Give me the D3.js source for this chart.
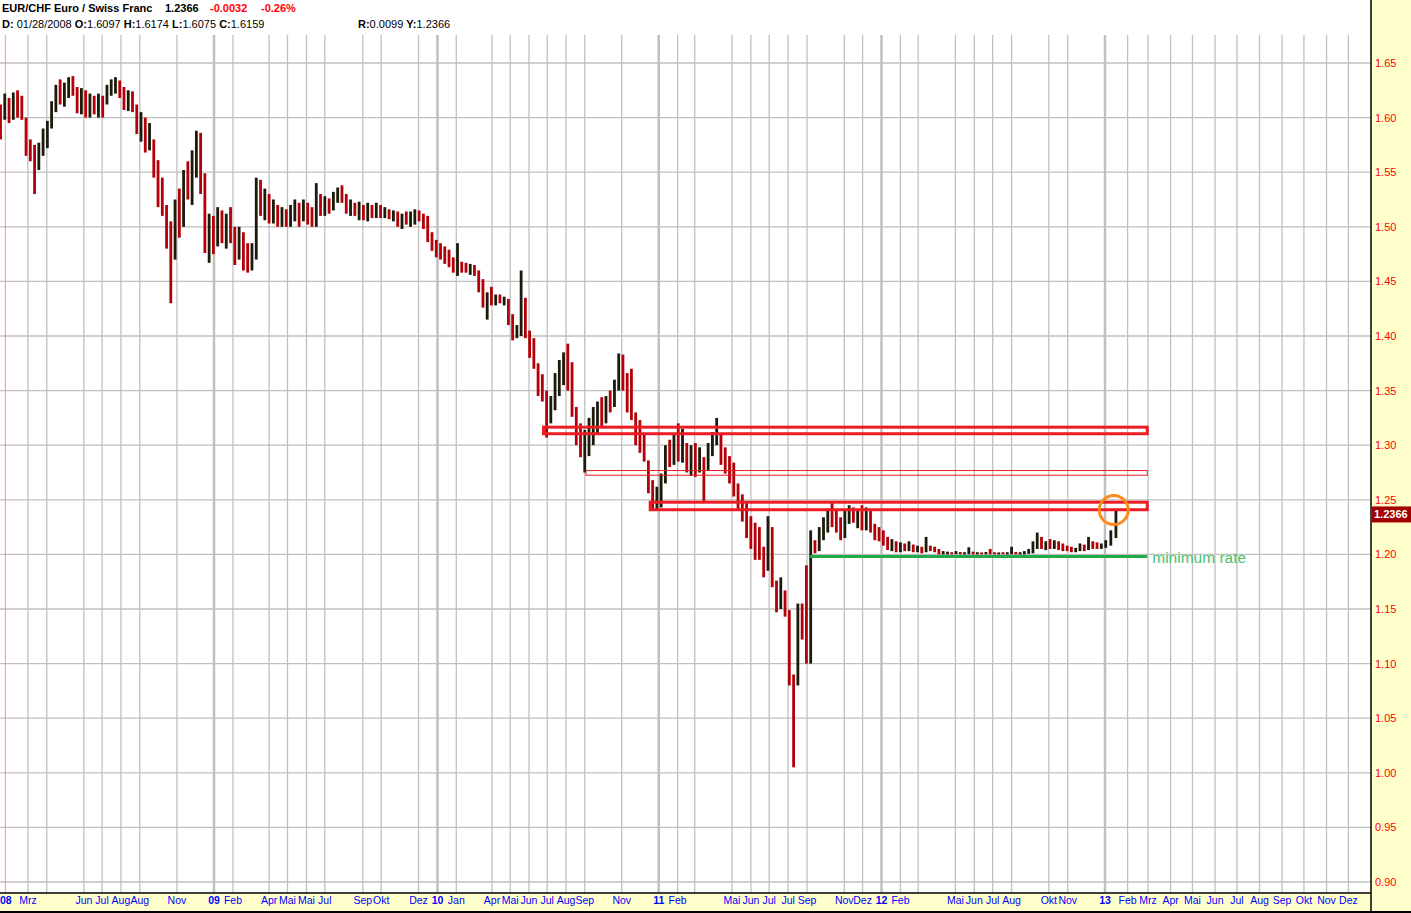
<!DOCTYPE html>
<html lang="en">
<head>
<meta charset="UTF-8">
<title>EUR/CHF Euro / Swiss Franc</title>
<script src="https://d3js.org/d3.v7.min.js"></script>
<style>
    body { margin: 0; padding: 0; background: #fff; }
    svg { display: block; font-family: 'Liberation Sans', Arial, sans-serif; }
</style>
</head>
<body>
<div id="chart"></div>
<script>
// weekly bars, first week starts Monday 2008-01-14
var firstWeek = "2008-01-14";
var firstOpen = 1.6097;

var highs = [
    1.612,1.622,1.618,1.623,1.625,1.620,1.600,1.580,1.575,1.577,
    1.590,1.597,1.615,1.630,1.635,1.632,1.637,1.638,1.628,1.627,
    1.625,1.622,1.620,1.622,1.620,1.630,1.635,1.637,1.634,1.628,
    1.625,1.624,1.612,1.605,1.600,1.595,1.580,1.561,1.545,1.520,
    1.505,1.525,1.535,1.552,1.560,1.570,1.588,1.586,1.549,1.512,
    1.510,1.518,1.515,1.512,1.518,1.500,1.500,1.495,1.485,1.485,
    1.545,1.543,1.535,1.530,1.525,1.520,1.518,1.516,1.520,1.525,
    1.522,1.525,1.522,1.518,1.540,1.530,1.528,1.526,1.532,1.536,
    1.538,1.530,1.525,1.522,1.523,1.520,1.522,1.520,1.522,1.520,
    1.518,1.516,1.515,1.514,1.512,1.514,1.514,1.516,1.515,1.512,
    1.510,1.495,1.488,1.485,1.482,1.479,1.472,1.485,1.468,1.467,
    1.466,1.465,1.460,1.452,1.440,1.445,1.438,1.438,1.436,1.434,
    1.420,1.410,1.460,1.435,1.405,1.398,1.375,1.365,1.350,1.345,
    1.366,1.378,1.385,1.393,1.376,1.335,1.320,1.314,1.325,1.335,
    1.340,1.344,1.345,1.350,1.360,1.384,1.383,1.366,1.370,1.330,
    1.323,1.310,1.286,1.268,1.262,1.274,1.300,1.305,1.310,1.320,
    1.315,1.302,1.300,1.302,1.298,1.289,1.302,1.312,1.325,1.310,
    1.298,1.290,1.284,1.265,1.255,1.247,1.235,1.229,1.225,1.207,
    1.235,1.225,1.176,1.179,1.167,1.149,1.090,1.155,1.155,1.190,
    1.222,1.213,1.225,1.234,1.240,1.247,1.240,1.234,1.240,1.245,
    1.243,1.240,1.245,1.243,1.240,1.228,1.225,1.222,1.216,1.214,
    1.212,1.211,1.210,1.212,1.209,1.208,1.207,1.216,1.208,1.207,
    1.205,1.203,1.2025,1.2020,1.2030,1.2022,1.2020,1.2065,1.2025,1.2020,
    1.2018,1.2022,1.2050,1.2020,1.2018,1.2020,1.2020,1.2070,1.2022,1.2020,
    1.203,1.205,1.212,1.220,1.216,1.212,1.214,1.213,1.212,1.210,
    1.208,1.207,1.206,1.210,1.209,1.216,1.212,1.211,1.210,1.213,
    1.222,1.240
];

var lows = [
    1.580,1.598,1.595,1.598,1.600,1.598,1.565,1.560,1.530,1.552,
    1.565,1.572,1.590,1.605,1.612,1.610,1.618,1.620,1.604,1.603,
    1.600,1.600,1.603,1.600,1.600,1.612,1.620,1.622,1.618,1.607,
    1.606,1.605,1.585,1.578,1.568,1.570,1.545,1.518,1.510,1.480,
    1.430,1.470,1.490,1.500,1.525,1.520,1.545,1.530,1.476,1.467,
    1.475,1.482,1.485,1.480,1.485,1.465,1.470,1.460,1.458,1.460,
    1.470,1.510,1.506,1.503,1.503,1.500,1.500,1.500,1.500,1.505,
    1.500,1.505,1.502,1.500,1.500,1.510,1.510,1.512,1.515,1.522,
    1.522,1.512,1.510,1.510,1.506,1.506,1.505,1.508,1.508,1.508,
    1.508,1.507,1.505,1.500,1.498,1.502,1.500,1.502,1.505,1.498,
    1.486,1.478,1.472,1.470,1.466,1.463,1.458,1.455,1.458,1.458,
    1.456,1.455,1.440,1.426,1.415,1.428,1.428,1.430,1.428,1.410,
    1.396,1.398,1.400,1.398,1.380,1.370,1.345,1.340,1.307,1.320,
    1.332,1.345,1.355,1.350,1.326,1.300,1.289,1.275,1.290,1.300,
    1.310,1.317,1.320,1.330,1.335,1.350,1.350,1.330,1.323,1.300,
    1.293,1.285,1.256,1.240,1.240,1.243,1.265,1.280,1.282,1.285,
    1.284,1.275,1.272,1.271,1.275,1.247,1.277,1.290,1.300,1.282,
    1.274,1.265,1.253,1.240,1.230,1.215,1.205,1.195,1.195,1.179,
    1.185,1.170,1.147,1.150,1.143,1.080,1.005,1.080,1.122,1.100,
    1.100,1.201,1.203,1.213,1.220,1.225,1.220,1.213,1.215,1.228,
    1.229,1.224,1.222,1.222,1.220,1.213,1.212,1.208,1.204,1.203,
    1.202,1.202,1.203,1.203,1.202,1.202,1.201,1.202,1.203,1.202,
    1.200,1.200,1.2000,1.2000,1.2002,1.2000,1.2000,1.2001,1.2000,1.2000,
    1.2000,1.2001,1.2000,1.2000,1.2000,1.2001,1.2000,1.2001,1.2000,1.2000,
    1.200,1.2005,1.201,1.205,1.205,1.204,1.205,1.205,1.204,1.203,
    1.203,1.202,1.202,1.203,1.203,1.204,1.205,1.205,1.205,1.206,
    1.208,1.215
];

var closes = [
    1.600,1.615,1.600,1.615,1.610,1.605,1.572,1.568,1.560,1.570,
    1.585,1.590,1.610,1.625,1.620,1.628,1.630,1.625,1.610,1.620,
    1.608,1.615,1.610,1.618,1.605,1.628,1.630,1.632,1.622,1.612,
    1.620,1.610,1.590,1.600,1.575,1.580,1.550,1.525,1.520,1.490,
    1.470,1.510,1.500,1.545,1.530,1.565,1.575,1.535,1.490,1.500,
    1.480,1.510,1.490,1.505,1.495,1.470,1.490,1.470,1.465,1.475,
    1.530,1.520,1.530,1.510,1.520,1.505,1.512,1.505,1.515,1.520,
    1.505,1.518,1.508,1.503,1.530,1.515,1.522,1.520,1.528,1.530,
    1.525,1.515,1.520,1.513,1.518,1.510,1.515,1.512,1.518,1.512,
    1.515,1.510,1.512,1.505,1.510,1.508,1.510,1.512,1.510,1.505,
    1.490,1.482,1.480,1.475,1.470,1.468,1.462,1.465,1.462,1.460,
    1.460,1.457,1.445,1.430,1.435,1.432,1.435,1.433,1.434,1.415,
    1.400,1.405,1.430,1.405,1.385,1.375,1.350,1.345,1.335,1.340,
    1.360,1.370,1.380,1.360,1.335,1.305,1.295,1.300,1.318,1.325,
    1.335,1.330,1.340,1.338,1.355,1.375,1.360,1.345,1.330,1.305,
    1.300,1.290,1.265,1.250,1.255,1.270,1.295,1.290,1.305,1.295,
    1.305,1.285,1.290,1.280,1.290,1.280,1.295,1.305,1.310,1.290,
    1.280,1.270,1.260,1.250,1.235,1.225,1.215,1.205,1.200,1.185,
    1.225,1.180,1.160,1.165,1.150,1.090,1.060,1.140,1.130,1.105,
    1.210,1.205,1.220,1.228,1.235,1.230,1.225,1.218,1.235,1.238,
    1.232,1.235,1.228,1.238,1.225,1.218,1.215,1.212,1.208,1.210,
    1.205,1.208,1.206,1.209,1.204,1.206,1.203,1.206,1.205,1.204,
    1.201,1.201,1.2012,1.2005,1.2015,1.2006,1.2010,1.2010,1.2008,1.2012,
    1.2006,1.2010,1.2009,1.2007,1.2010,1.2008,1.2008,1.2012,1.2006,1.2010,
    1.2015,1.2030,1.210,1.215,1.208,1.210,1.207,1.210,1.206,1.205,
    1.204,1.203,1.205,1.208,1.205,1.212,1.208,1.207,1.208,1.211,
    1.220,1.2366
];

var yTicks = [0.90, 0.95, 1.00, 1.05, 1.10, 1.15, 1.20, 1.25, 1.30, 1.35, 1.40, 1.45, 1.50, 1.55, 1.60, 1.65];

// month grid lines and the labels the chart put under them
var tickDates = [
    "2008-03-01","2008-04-01","2008-06-01","2008-07-01","2008-08-01","2008-09-01","2008-11-01",
    "2009-01-01","2009-02-01","2009-04-01","2009-05-01","2009-06-01","2009-07-01","2009-09-01","2009-10-01","2009-12-01",
    "2010-01-01","2010-02-01","2010-04-01","2010-05-01","2010-06-01","2010-07-01","2010-08-01","2010-09-01","2010-11-01",
    "2011-01-01","2011-02-01","2011-03-01","2011-05-01","2011-06-01","2011-07-01","2011-08-01","2011-09-01","2011-11-01","2011-12-01",
    "2012-01-01","2012-02-01","2012-03-01","2012-05-01","2012-06-01","2012-07-01","2012-08-01","2012-10-01","2012-11-01",
    "2013-01-01","2013-02-01","2013-03-01","2013-04-01","2013-05-01","2013-06-01","2013-07-01","2013-08-01","2013-09-01","2013-10-01","2013-11-01","2013-12-01"
];
var tickLabels = [
    "Mrz","","Jun","Jul","Aug","Aug","Nov",
    "09","Feb","Apr","Mai","Mai","Jul","Sep","Okt","Dez",
    "10","Jan","Apr","Mai","Jun","Jul","Aug","Sep","Nov",
    "11","Feb","","Mai","Jun","Jul","Jul","Sep","Nov","Dez",
    "12","Feb","","Mai","Jun","Jul","Aug","Okt","Nov",
    "13","Feb","Mrz","Apr","Mai","Jun","Jul","Aug","Sep","Okt","Nov","Dez"
];

// resistance zones drawn on the chart
var zoneStart = ["2010-06-25", "2010-09-03", "2010-12-18"];
var zoneEnd = ["2013-02-28", "2013-02-28", "2013-02-28"];
var zoneTop = [1.3165, 1.2768, 1.2478];
var zoneBottom = [1.3105, 1.2725, 1.2409];

var minRate = 1.20;
var minRateFrom = "2011-09-06";
var minRateTo = "2013-02-28";
var circleDate = "2013-01-13";
var circlePrice = 1.2407;
var lastPrice = 1.2366;
var cursorDate = "2008-01-28";

var width = 1411, height = 913;
var plotRight = 1371, plotTop = 35, plotBottom = 893;

var parseDate = d3.timeParse("%Y-%m-%d");

var xScale = d3.scaleTime()
    .domain(["2008-01-01","2009-01-01","2010-01-01","2011-01-01","2012-01-01","2013-01-01","2014-01-01"].map(parseDate))
    .range([-8.6, 214, 437.5, 658.7, 881.5, 1105, 1371]);

var yScale = d3.scaleLinear()
    .domain([0.90, 1.65])
    .range([882, 63]);

var bars = highs.map(function(h, i) {
    return {
        date: d3.timeDay.offset(parseDate(firstWeek), 7 * i + 2),
        high: h,
        low: lows[i],
        open: i === 0 ? firstOpen : closes[i - 1],
        close: closes[i]
    };
});

var svg = d3.select("#chart").append("svg")
    .attr("width", width)
    .attr("height", height)
    .attr("viewBox", [0, 0, width, height]);

svg.append("rect").attr("width", width).attr("height", height).attr("fill", "#fff");

// grid
var grid = svg.append("g");
grid.selectAll(".vgrid")
    .data(tickDates)
    .enter()
    .append("line")
    .attr("x1", d => xScale(parseDate(d)))
    .attr("x2", d => xScale(parseDate(d)))
    .attr("y1", plotTop)
    .attr("y2", plotBottom)
    .style("stroke", "#c0c0c0")
    .style("stroke-width", d => d.slice(5) === "01-01" ? 2.5 : 1.3);

grid.selectAll(".hgrid")
    .data(yTicks)
    .enter()
    .append("line")
    .attr("x1", 0)
    .attr("x2", plotRight)
    .attr("y1", d => yScale(d))
    .attr("y2", d => yScale(d))
    .style("stroke", "#c0c0c0")
    .style("stroke-width", 1.3);

// cursor line
svg.append("line")
    .attr("x1", xScale(parseDate(cursorDate)) - 2.5)
    .attr("x2", xScale(parseDate(cursorDate)) - 2.5)
    .attr("y1", plotTop)
    .attr("y2", plotBottom)
    .style("stroke", "#ff9090")
    .style("stroke-width", 1);

// price bars
svg.append("g").selectAll("rect")
    .data(bars)
    .enter()
    .append("rect")
    .attr("x", d => xScale(d.date) - 1.4)
    .attr("width", 2.8)
    .attr("y", d => yScale(d.high))
    .attr("height", d => Math.max(1.5, yScale(d.low) - yScale(d.high)))
    .attr("fill", d => d.close >= d.open ? "#1c1a0a" : "#b40008");

// zones
svg.append("g").selectAll("rect")
    .data(zoneTop)
    .enter()
    .append("rect")
    .attr("x", (d, i) => xScale(parseDate(zoneStart[i])))
    .attr("width", (d, i) => xScale(parseDate(zoneEnd[i])) - xScale(parseDate(zoneStart[i])))
    .attr("y", d => yScale(d))
    .attr("height", (d, i) => yScale(zoneBottom[i]) - yScale(d))
    .attr("fill", "none")
    .attr("stroke", "#ec1c24")
    .attr("stroke-width", (d, i) => i === 1 ? 1 : 3);

// minimum rate line
svg.append("line")
    .attr("x1", xScale(parseDate(minRateFrom)))
    .attr("x2", xScale(parseDate(minRateTo)))
    .attr("y1", yScale(minRate) + 2)
    .attr("y2", yScale(minRate) + 2)
    .style("stroke", "#22a94a")
    .style("stroke-width", 3);

svg.append("text")
    .attr("x", xScale(parseDate(minRateTo)) + 5)
    .attr("y", yScale(minRate) + 9)
    .style("font-size", "15.5px")
    .style("fill", "#45c36f")
    .text("minimum rate");

svg.append("circle")
    .attr("cx", xScale(parseDate(circleDate)))
    .attr("cy", yScale(circlePrice))
    .attr("r", 14.5)
    .attr("fill", "none")
    .attr("stroke", "#ff8a1c")
    .attr("stroke-width", 3);

// right price axis
svg.append("rect")
    .attr("x", plotRight).attr("y", 0)
    .attr("width", width - plotRight).attr("height", height)
    .attr("fill", "#ffffcc");

svg.append("g").selectAll("text")
    .data(yTicks)
    .enter()
    .append("text")
    .attr("x", plotRight + 4)
    .attr("y", d => yScale(d))
    .attr("dy", "0.36em")
    .style("font-size", "11px")
    .style("fill", "#ff0000")
    .text(d => d.toFixed(2));

svg.append("rect")
    .attr("x", plotRight + 1)
    .attr("y", yScale(lastPrice) - 8)
    .attr("width", width - plotRight - 1)
    .attr("height", 16)
    .attr("fill", "#a00000");

svg.append("text")
    .attr("x", plotRight + 3)
    .attr("y", yScale(lastPrice))
    .attr("dy", "0.36em")
    .style("font-size", "11px")
    .style("font-weight", "bold")
    .style("fill", "#fff")
    .text(lastPrice.toFixed(4));

// bottom time axis
svg.append("rect")
    .attr("x", 0).attr("y", plotBottom)
    .attr("width", width).attr("height", height - plotBottom)
    .attr("fill", "#ffffcc");

svg.append("g").selectAll("text")
    .data(tickDates)
    .enter()
    .append("text")
    .attr("x", d => xScale(parseDate(d)))
    .attr("y", 904)
    .attr("text-anchor", "middle")
    .style("font-size", "10.5px")
    .style("font-weight", d => d.slice(5) === "01-01" ? "bold" : "normal")
    .style("fill", "#0000ff")
    .text((d, i) => tickLabels[i]);

svg.append("text")
    .attr("x", 0)
    .attr("y", 904)
    .style("font-size", "10.5px")
    .style("font-weight", "bold")
    .style("fill", "#0000ff")
    .text("08");

svg.append("line")
    .attr("x1", 0).attr("x2", plotRight)
    .attr("y1", plotBottom).attr("y2", plotBottom)
    .style("stroke", "#000").style("stroke-width", 1.5);

svg.append("line")
    .attr("x1", plotRight).attr("x2", plotRight)
    .attr("y1", 0).attr("y2", height)
    .style("stroke", "#000").style("stroke-width", 1.5);

svg.append("line")
    .attr("x1", 0).attr("x2", width)
    .attr("y1", height - 1).attr("y2", height - 1)
    .style("stroke", "#000").style("stroke-width", 2);

// header
var head = svg.append("g").style("font-size", "11px");
head.append("text").attr("x", 2).attr("y", 12).style("font-weight", "bold").text("EUR/CHF Euro / Swiss Franc");
head.append("text").attr("x", 165).attr("y", 12).style("font-weight", "bold").text("1.2366");
head.append("text").attr("x", 210).attr("y", 12).style("font-weight", "bold").style("fill", "#ff0000").text("-0.0032");
head.append("text").attr("x", 261).attr("y", 12).style("font-weight", "bold").style("fill", "#ff0000").text("-0.26%");

var line2 = head.append("text").attr("x", 2).attr("y", 28);
[["D:", true], [" 01/28/2008 ", false], ["O:", true], ["1.6097 ", false], ["H:", true], ["1.6174 ", false],
 ["L:", true], ["1.6075 ", false], ["C:", true], ["1.6159", false]].forEach(function(p) {
    line2.append("tspan").style("font-weight", p[1] ? "bold" : "normal").text(p[0]);
});

var line3 = head.append("text").attr("x", 358).attr("y", 28);
[["R:", true], ["0.0099 ", false], ["Y:", true], ["1.2366", false]].forEach(function(p) {
    line3.append("tspan").style("font-weight", p[1] ? "bold" : "normal").text(p[0]);
});
</script>
</body>
</html>
